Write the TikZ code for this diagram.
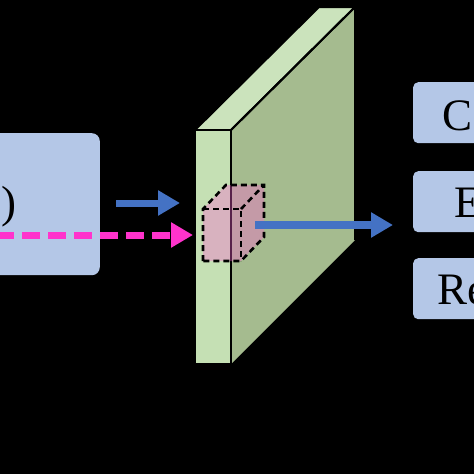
\documentclass[tikz,border=0pt]{standalone}
\usepackage{fontspec}
\setmainfont{Liberation Serif}
\usetikzlibrary{arrows.meta}
\definecolor{boxblue}{HTML}{B4C7E7}
\definecolor{arrblue}{HTML}{4472C4}
\definecolor{arrpink}{HTML}{FF33CC}
\definecolor{slabfront}{HTML}{C5E0B4}
\definecolor{slabtop}{HTML}{CBE3BC}
\definecolor{slabside}{HTML}{A5BB8F}
\definecolor{cubepink}{HTML}{FE5FD6}
\tikzset{
  infobox/.style={draw=none, fill=boxblue, rounded corners=5pt, minimum height=61pt, minimum width=120pt, inner sep=0pt},
  lbl/.style={inner sep=0pt, font=\fontsize{45}{50}\selectfont},
  slabface/.style={draw=black, line width=2pt, line join=round},
  cubeedge/.style={draw=black, line width=2.6pt, dash pattern=on 6pt off 4pt},
  bluearrow/.style={draw=arrblue, line width=7pt, -{Triangle[length=22pt,width=24pt]}},
  pinkarrow/.style={draw=arrpink, line width=7pt, dash pattern=on 18pt off 8pt, -{Triangle[length=22pt,width=24pt]}},
}
\begin{document}
\begin{tikzpicture}[x=1pt,y=-1pt]
\fill[black] (0,0) rectangle (474,474);
\useasboundingbox (0,0) rectangle (474,474);
\clip (0,0) rectangle (474,474);
% left input box
\node[infobox, rounded corners=8pt, anchor=north east, minimum width=160pt, minimum height=142pt] (inbox) at (100,133) {};
\node[lbl, anchor=base east] (intext) at (17,217) {)};
% slab
\fill[slabside] (231,130) -- (355,7) -- (355,240) -- (231,364) -- cycle;
\draw[slabface, fill=slabtop] (195,130) -- (231,130) -- (355,7) -- (319,7) -- cycle;
\draw[slabface] (231,130) -- (355,7) -- (355,240);
\draw[slabface, fill=slabfront] (195,130) rectangle (231,364);
% cube
\fill[cubepink, fill opacity=0.35] (203,261) -- (203,209) -- (226,185) -- (264,185) -- (264,237) -- (241,261) -- cycle;
\draw[cubeedge] (203,261) -- (203,209) -- (226,185) -- (264,185) -- (264,237) -- (241,261) -- cycle;
\draw[cubeedge] (203,209) -- (241,209) -- (241,261);
\draw[cubeedge] (241,209) -- (264,185);
% arrow coordinates
\coordinate (b1s) at (116,203);
\coordinate (b1e) at (180,203);
\coordinate (ps) at (-4,235);
\coordinate (pe) at (193,235);
\coordinate (b2s) at (255,225);
\coordinate (b2e) at (393,225);
\draw[bluearrow] (b1s) -- (b1e);
\draw[pinkarrow] (ps) -- (pe);
\draw[bluearrow, line width=7.5pt] (b2s) -- (b2e);
% output boxes
\node[infobox, anchor=north west] (o1) at (413,82) {};
\node[infobox, anchor=north west] (o2) at (413,171) {};
\node[infobox, anchor=north west] (o3) at (413,258) {};
\node[lbl, anchor=base west] (t1) at (442,130) {C};
\node[lbl, anchor=base west] (t2) at (454.5,217) {E};
\node[lbl, anchor=base west] (t3) at (437,304) {Re};
\end{tikzpicture}
\end{document}
